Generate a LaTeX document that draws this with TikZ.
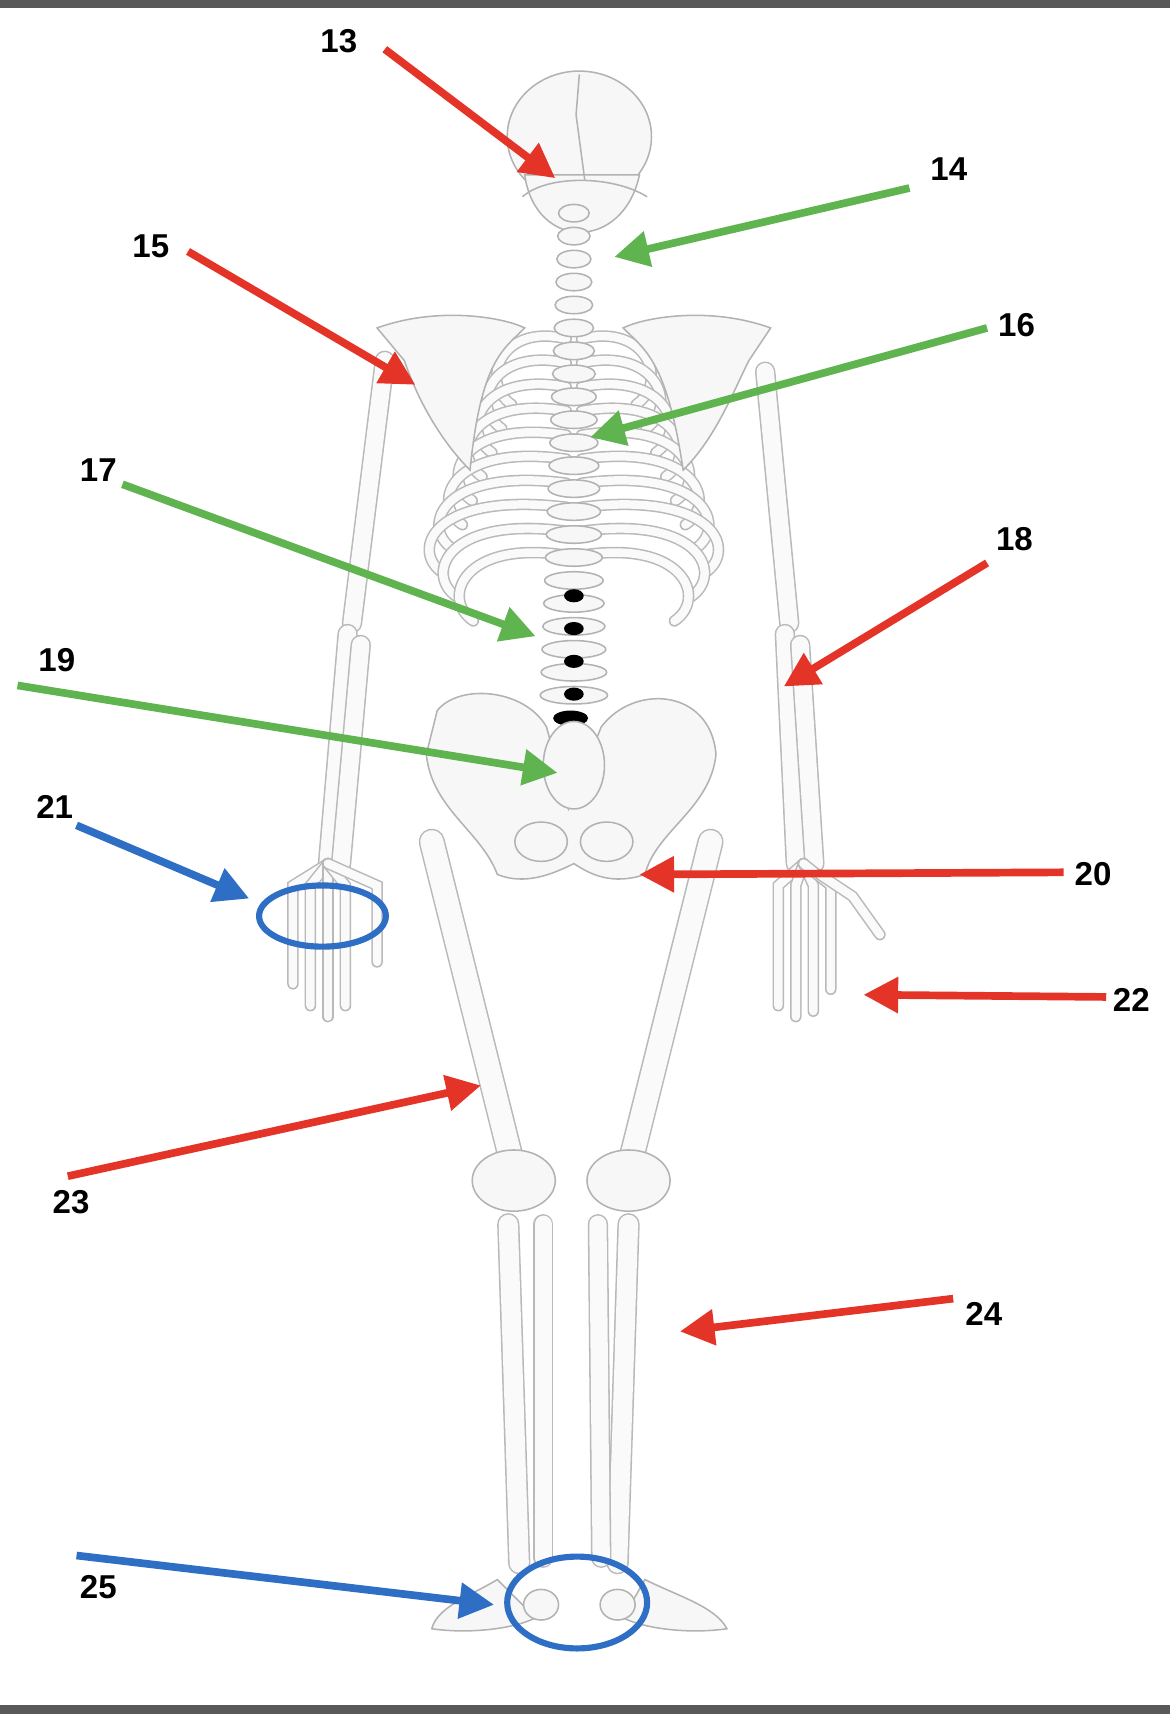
\documentclass[tikz,border=0pt]{standalone}
\usepackage{fontspec}
\setmainfont{Liberation Sans}
\usetikzlibrary{arrows.meta}
\definecolor{ared}{RGB}{228,52,40}
\definecolor{agreen}{RGB}{96,180,80}
\definecolor{ablue}{RGB}{46,110,196}
\begin{document}
\begin{tikzpicture}[x=0.01cm,y=-0.01cm,
 lab/.style={font=\fontsize{8.6}{10}\selectfont\bfseries},
 arr/.style={line width=2pt,-{Triangle[length=9pt,width=9pt]}},
 bone/.style={draw=gray!55,double=gray!4,double distance=4.5pt,line cap=round,line width=0.4pt},
 rib/.style={draw=gray!55,double=gray!4,double distance=2.2pt,line cap=round,line width=0.4pt},
 sh/.style={draw=gray!60,fill=gray!6,line width=0.4pt}]
\useasboundingbox (0,0) rectangle (1070,1568);
\fill[gray!70!black] (0,0) rectangle (1070,7);
\fill[gray!70!black] (0,1560) rectangle (1070,1568);
% skull
\draw[sh] (530,125) ellipse (66 and 60);
\draw[sh] (480,160) .. controls (490,230) and (570,230) .. (585,160) -- cycle;
\draw[gray!60] (530,68) -- (527,105) -- (535,165);
\draw[gray!60] (478,180) .. controls (500,160) and (560,160) .. (592,180);
% arms
\draw[bone] (352,330) -- (322,570);
\draw[bone] (318,580) -- (300,790);
\draw[bone] (330,590) -- (312,790);
\draw[bone] (700,340) -- (722,570);
\draw[bone] (718,580) -- (728,790);
\draw[bone] (732,590) -- (745,790);
% hands
\foreach \x/\l in {268/90,284/110,300/120,316/110,345/70}{\draw[rib] (300,790) -- (\x,810) -- (\x,810+\l);}
\foreach \x/\l in {712/110,728/120,744/115,760/95}{\draw[rib] (735,790) -- (\x,810) -- (\x,810+\l);}
\draw[rib] (750,800) -- (780,820) -- (805,855);
% ribs
\foreach \i in {0,...,9}{
 \pgfmathsetmacro\y{310+\i*22}
 \pgfmathsetmacro\w{min(60+9*\i,125)-(\i>7)*15*(\i-7)}
 \draw[rib] (518,\y) .. controls (518-\w,\y-15) and (518-\w-20,\y+40) .. (518-\w+10,\y+60);
 \draw[rib] (532,\y) .. controls (532+\w,\y-15) and (532+\w+20,\y+40) .. (532+\w-10,\y+60);
}
% clavicles / scapulae
\draw[sh] (345,300) .. controls (400,280) and (460,290) .. (480,300) .. controls (460,320) and (440,330) .. (430,430) .. controls (400,400) and (380,360) .. (370,330) -- cycle;
\draw[sh] (705,300) .. controls (650,280) and (590,290) .. (570,300) .. controls (590,320) and (610,330) .. (625,430) .. controls (655,400) and (670,360) .. (685,330) -- cycle;
% spine
\foreach \i in {0,...,21}{
 \pgfmathsetmacro\y{195+\i*21}
 \draw[sh] (525,\y) ellipse ({14+\i*0.8} and 8);
}
\foreach \y in {545,575,605,635}{\fill[black] (525,\y) ellipse (9 and 6);}
\fill[black] (522,657) ellipse (16 and 7);
% pelvis
\draw[sh] (400,650) .. controls (420,625) and (480,630) .. (500,665) -- (520,740) -- (550,665) .. controls (580,625) and (650,630) .. (655,690) .. controls (650,740) and (600,760) .. (590,800) .. controls (560,810) and (540,800) .. (525,790) .. controls (505,800) and (480,810) .. (455,800) .. controls (440,760) and (395,740) .. (390,690) -- cycle;
\draw[sh] (495,770) ellipse (24 and 18);
\draw[sh] (555,770) ellipse (24 and 18);
\draw[sh] (525,700) ellipse (28 and 40);
% legs
\draw[bone,double distance=6pt] (395,770) -- (470,1070);
\draw[bone,double distance=6pt] (650,770) -- (575,1070);
\draw[sh] (470,1080) ellipse (38 and 28);
\draw[sh] (575,1080) ellipse (38 and 28);
\draw[bone,double distance=5pt] (465,1120) -- (475,1430);
\draw[bone] (497,1120) -- (497,1425);
\draw[bone,double distance=5pt] (575,1120) -- (565,1430);
\draw[bone] (547,1120) -- (550,1425);
% feet
\draw[sh] (455,1445) .. controls (430,1460) and (400,1470) .. (395,1490) .. controls (430,1495) and (470,1490) .. (490,1480) -- cycle;
\draw[sh] (590,1445) .. controls (620,1460) and (655,1470) .. (665,1490) .. controls (630,1495) and (590,1490) .. (570,1480) -- cycle;
\draw[sh] (495,1468) ellipse (16 and 14);
\draw[sh] (565,1468) ellipse (16 and 14);
% arrows
\coordinate (t13) at (352,45); \coordinate (h13) at (508,163);
\draw[arr,ared] (t13) -- (h13); \node[lab] (l13) at (310,38) {13};
\coordinate (t14) at (832,172); \coordinate (h14) at (562,235);
\draw[arr,agreen] (t14) -- (h14); \node[lab] (l14) at (868,155) {14};
\coordinate (t15) at (172,230); \coordinate (h15) at (380,352);
\draw[arr,ared] (t15) -- (h15); \node[lab] (l15) at (138,225) {15};
\coordinate (t16) at (903,300); \coordinate (h16) at (540,400);
\draw[arr,agreen] (t16) -- (h16); \node[lab] (l16) at (930,297) {16};
\coordinate (t17) at (112,443); \coordinate (h17) at (490,582);
\draw[arr,agreen] (t17) -- (h17); \node[lab] (l17) at (90,430) {17};
\coordinate (t18) at (903,515); \coordinate (h18) at (717,628);
\draw[arr,ared] (t18) -- (h18); \node[lab] (l18) at (928,493) {18};
\coordinate (t19) at (16,627); \coordinate (h19) at (510,707);
\draw[arr,agreen] (t19) -- (h19); \node[lab] (l19) at (52,604) {19};
\coordinate (t20) at (973,798); \coordinate (h20) at (585,800);
\draw[arr,ared] (t20) -- (h20); \node[lab] (l20) at (1000,800) {20};
\coordinate (t21) at (70,755); \coordinate (h21) at (228,822);
\draw[arr,ablue] (t21) -- (h21); \node[lab] (l21) at (50,738) {21};
\draw[ablue,line width=1.6pt] (295,838) ellipse (58 and 28);
\coordinate (t22) at (1012,912); \coordinate (h22) at (790,910);
\draw[arr,ared] (t22) -- (h22); \node[lab] (l22) at (1035,915) {22};
\coordinate (t23) at (62,1076); \coordinate (h23) at (440,993);
\draw[arr,ared] (t23) -- (h23); \node[lab] (l23) at (65,1100) {23};
\coordinate (t24) at (872,1188); \coordinate (h24) at (622,1218);
\draw[arr,ared] (t24) -- (h24); \node[lab] (l24) at (900,1202) {24};
\coordinate (t25) at (70,1423); \coordinate (h25) at (452,1468);
\draw[arr,ablue] (t25) -- (h25); \node[lab] (l25) at (90,1452) {25};
\draw[ablue,line width=1.6pt] (528,1466) ellipse (64 and 42);
\end{tikzpicture}
\end{document}
